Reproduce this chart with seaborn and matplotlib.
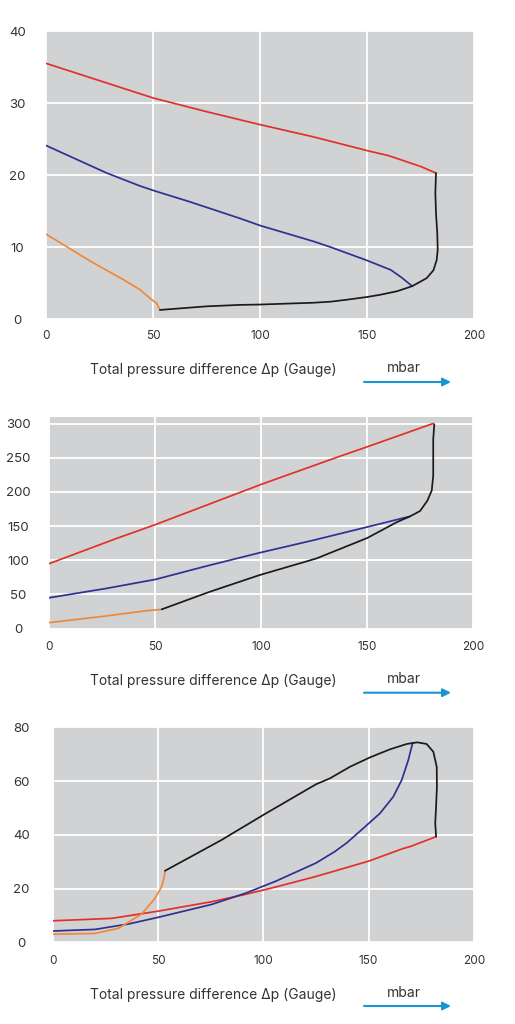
import matplotlib
matplotlib.use("Agg")
import matplotlib.pyplot as plt
import seaborn as sns
import pandas as pd

# ---- data (x = total pressure difference, mbar) ----
# panel 1 (y 0..40)
p1_red_x = [0, 25, 50, 75, 100, 125, 150, 160, 166, 171, 175, 182]
p1_red_y = [35.5, 33.1, 30.7, 28.8, 27.0, 25.3, 23.4, 22.7, 22.1, 21.6, 21.2, 20.3]
p1_blue_x = [0, 12.6, 28.2, 43.8, 50.8, 67.1, 90.5, 100, 125, 133, 150, 161, 166, 171]
p1_blue_y = [24.1, 22.4, 20.3, 18.5, 17.8, 16.3, 14.0, 13.0, 10.8, 10.0, 8.15, 6.85, 5.8, 4.6]
p1_orange_x = [0, 20.4, 36, 43.8, 48.5, 51.6, 53.1]
p1_orange_y = [11.8, 8.1, 5.5, 4.1, 2.9, 2.2, 1.3]
p1_black_x = [53.1, 75, 90.5, 100, 125, 133, 140, 150, 156, 164, 171, 177.7, 180.9,
              182.4, 182.9, 182.7, 182.1, 181.8, 182.1]
p1_black_y = [1.3, 1.8, 2.0, 2.05, 2.3, 2.45, 2.7, 3.1, 3.4, 3.9, 4.6, 5.7, 6.8,
              8.2, 9.6, 11.9, 14.7, 17.5, 20.3]

# panel 2 (y 0..310)
p2_red_x = [0, 31, 50, 100, 137, 150, 181]
p2_red_y = [95, 131, 152, 211, 252, 266, 300]
p2_blue_x = [0, 27, 50, 74, 99, 125, 150, 170]
p2_blue_y = [45, 58.7, 71.8, 91.3, 110.7, 129.5, 148.6, 164]
p2_orange_x = [0, 27, 46, 53]
p2_orange_y = [8.6, 18.4, 26.1, 28.0]
p2_black_x = [53, 75, 99, 126, 150, 164, 170.1, 174.9, 178.3, 180.4,
              181.1, 181.1, 181.1, 181.6]
p2_black_y = [28.0, 53, 78, 102.5, 132.5, 155.8, 164, 172, 187, 202,
              224, 248, 277, 299]

# panel 3 (y 0..80)
p3_red_x = [0, 28, 50.1, 75.5, 91.3, 105.5, 125, 150, 166, 170, 182]
p3_red_y = [8.0, 8.9, 11.6, 15.1, 17.8, 20.5, 24.5, 30.2, 34.8, 35.7, 39.3]
p3_blue_x = [0, 20.1, 35.9, 50.1, 75.5, 91.3, 105.5, 125, 134, 139.6, 147.4, 155.4,
             161.7, 165.7, 168.8, 170.9]
p3_blue_y = [4.2, 4.8, 6.8, 9.3, 14.1, 18.2, 22.6, 29.5, 33.8, 37.0, 42.4, 48.0,
             54.2, 60.4, 67.8, 74.3]
p3_orange_x = [0, 20.1, 31.2, 42.2, 48.6, 51.7, 53, 53.3]
p3_orange_y = [3.0, 3.3, 5.2, 10.5, 16.4, 20.7, 24.4, 26.6]
p3_black_x = [53.3, 80.2, 100, 125, 131.6, 141.1, 150.6, 160.1, 168.1, 173.1, 177.5,
              180.7, 182.3, 182.4, 182.0, 181.6, 182.0]
p3_black_y = [26.6, 38.1, 47.4, 58.8, 61.0, 65.3, 68.8, 71.8, 73.8, 74.4, 73.8,
              70.9, 65.3, 57.9, 50.5, 44.3, 39.3]

x_ticks = [0, 50, 100, 150, 200]
p1_y_ticks = [0, 10, 20, 30, 40]
p2_y_ticks = [0, 50, 100, 150, 200, 250, 300]
p3_y_ticks = [0, 20, 40, 60, 80]

xlabel_text = "Total pressure difference \u0394p (Gauge)"
unit_text = "mbar"

RED = "#e2302a"
BLUE = "#2e3192"
ORANGE = "#f0883a"
BLACK = "#1a1a1a"
GRAY = "#d1d2d4"
TEXT = "#333333"
ARROW = "#1b94d2"

sns.set_style("darkgrid", {"axes.facecolor": GRAY, "grid.color": "white"})
plt.rcParams["font.family"] = ["Inter", "DejaVu Sans"]

W, H = 515, 1024
fig = plt.figure(figsize=(W / 100, H / 100), dpi=100)

# pixel boxes: left, right, top, bottom of the grey plotting area
panels = [
    dict(box=(46.3, 474.3, 31.0, 319.3), ylim=(0, 40), yticks=p1_y_ticks,
         curves=[(p1_red_x, p1_red_y, RED), (p1_blue_x, p1_blue_y, BLUE),
                 (p1_orange_x, p1_orange_y, ORANGE), (p1_black_x, p1_black_y, BLACK)],
         ypad=20.9, xpad=8.0, label_y=370, arrow_y=382),
    dict(box=(49.3, 473.3, 416.7, 628.5), ylim=(0, 310), yticks=p2_y_ticks,
         curves=[(p2_red_x, p2_red_y, RED), (p2_blue_x, p2_blue_y, BLUE),
                 (p2_orange_x, p2_orange_y, ORANGE), (p2_black_x, p2_black_y, BLACK)],
         ypad=22.1, xpad=9.0, label_y=681, arrow_y=692.7),
    dict(box=(52.7, 474.0, 727.3, 942.3), ylim=(0, 80), yticks=p3_y_ticks,
         curves=[(p3_red_x, p3_red_y, RED), (p3_blue_x, p3_blue_y, BLUE),
                 (p3_orange_x, p3_orange_y, ORANGE), (p3_black_x, p3_black_y, BLACK)],
         ypad=22.5, xpad=9.0, label_y=994.7, arrow_y=1006),
]

for p in panels:
    l, r, t, b = p["box"]
    ax = fig.add_axes([l / W, 1 - b / H, (r - l) / W, (b - t) / H])
    for xs, ys, col in p["curves"]:
        df = pd.DataFrame({"x": xs, "y": ys})
        sns.lineplot(data=df, x="x", y="y", sort=False, estimator=None,
                     color=col, linewidth=1.25, ax=ax)
    ax.set_xlim(0, 200)
    ax.set_ylim(*p["ylim"])
    ax.set_xticks(x_ticks)
    ax.set_yticks(p["yticks"])
    ax.set_xlabel("")
    ax.set_ylabel("")
    ax.grid(True, color="white", linewidth=1.3)
    for s in ax.spines.values():
        s.set_visible(False)
    ax.tick_params(axis="y", length=0, pad=p["ypad"], labelsize=9.5, labelcolor=TEXT)
    ax.tick_params(axis="x", length=0, pad=p["xpad"], labelsize=8.5, labelcolor=TEXT)
    for lab in ax.get_yticklabels():
        lab.set_horizontalalignment("center")

    ly = 1 - p["label_y"] / H
    fig.text(213 / W, ly, xlabel_text, ha="center", va="center", fontsize=10, color=TEXT)
    fig.text(404 / W, ly + 2 / H, unit_text, ha="center", va="center", fontsize=10, color=TEXT)
    ay = 1 - p["arrow_y"] / H
    ax.annotate("", xy=(451 / W, ay), xytext=(364 / W, ay),
                xycoords="figure fraction", textcoords="figure fraction",
                annotation_clip=False,
                arrowprops=dict(arrowstyle="-|>", color=ARROW, lw=1.5,
                                mutation_scale=12, shrinkA=0, shrinkB=0))

fig.savefig("out.png", dpi=100, facecolor="white")
